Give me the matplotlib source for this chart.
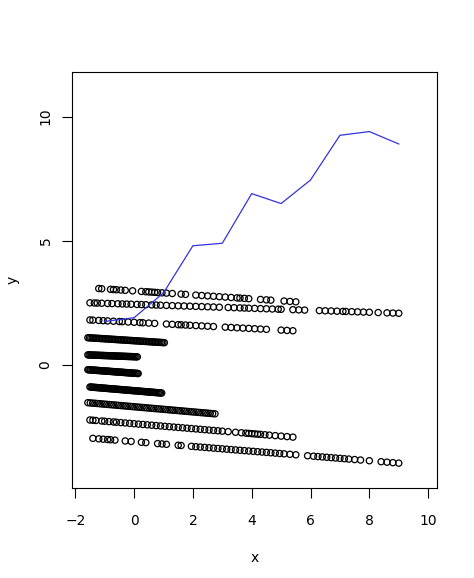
import numpy as np
import matplotlib.pyplot as plt

# blue line
line_x = [-1, 0, 1, 2, 3, 4, 5, 6, 7, 8, 9]
line_y = [1.75, 1.9, 2.9, 4.8, 4.9, 6.9, 6.5, 7.45, 9.25, 9.4, 8.9]

# scatter bands: x positions of points, plus band y at x=-1.5 and band slope
band_x = [
    [-1.2, -1.1, -0.8, -0.7, -0.6, -0.45, -0.3, -0.05, 0.25, 0.4, 0.5, 0.6, 0.7, 0.8, 0.95, 1.1, 1.3, 1.6, 1.75, 2.1, 2.3, 2.5, 2.7, 2.9, 3.1, 3.3, 3.5, 3.6, 3.75, 3.9, 4.3, 4.5, 4.65, 5.1, 5.3, 5.5],
    [-1.5, -1.35, -1.25, -1.1, -0.9, -0.75, -0.55, -0.4, -0.25, -0.1, 0.1, 0.25, 0.4, 0.6, 0.75, 0.9, 1.1, 1.3, 1.5, 1.7, 1.9, 2.1, 2.3, 2.5, 2.7, 2.9, 3.2, 3.4, 3.6, 3.75, 3.9, 4.1, 4.3, 4.5, 4.7, 4.9, 5.0, 5.4, 5.6, 5.8, 6.3, 6.5, 6.7, 6.9, 7.1, 7.2, 7.4, 7.6, 7.8, 8.0, 8.3, 8.6, 8.8, 9.0],
    [-1.5, -1.4, -1.2, -1.05, -0.9, -0.7, -0.5, -0.4, -0.2, 0.0, 0.2, 0.3, 0.5, 0.7, 1.1, 1.3, 1.5, 1.6, 1.75, 1.9, 2.1, 2.3, 2.5, 2.7, 3.1, 3.3, 3.5, 3.7, 3.9, 4.1, 4.3, 4.5, 5.0, 5.2, 5.4],
    list(np.round(np.arange(-1.57, 1.06, 0.05), 2)),
    list(np.round(np.arange(-1.57, 0.15, 0.04), 2)),
    list(np.round(np.arange(-1.57, 0.15, 0.035), 2)),
    list(np.round(np.arange(-1.5, 0.96, 0.04), 2)),
    list(np.round(np.arange(-1.57, 2.77, 0.08), 2)),
    [-1.5, -1.4, -1.3, -1.1, -1.0, -0.85, -0.7, -0.6, -0.45, -0.3, -0.15, 0.0, 0.15, 0.3, 0.45, 0.6, 0.75, 0.9, 1.05, 1.2, 1.35, 1.5, 1.65, 1.8, 1.95, 2.1, 2.25, 2.4, 2.55, 2.7, 2.85, 3.0, 3.2, 3.45, 3.65, 3.8, 3.9, 4.0, 4.1, 4.2, 4.3, 4.45, 4.6, 4.8, 5.0, 5.2, 5.4],
    [-1.4, -1.2, -1.05, -0.9, -0.8, -0.65, -0.3, -0.1, 0.25, 0.4, 0.8, 0.95, 1.1, 1.5, 1.6, 1.95, 2.1, 2.25, 2.4, 2.55, 2.7, 2.85, 3.0, 3.15, 3.3, 3.45, 3.6, 3.75, 3.9, 4.05, 4.2, 4.35, 4.5, 4.65, 4.8, 4.95, 5.1, 5.3, 5.5, 5.9, 6.1, 6.25, 6.4, 6.55, 6.7, 6.85, 7.0, 7.15, 7.3, 7.5, 7.7, 8.0, 8.4, 8.6, 8.8, 9.0],
]
band_y0 = [3.1, 2.5, 1.81, 1.09, 0.4, -0.2, -0.89, -1.53, -2.22, -2.95]
band_slope = [-0.08, -0.04, -0.063, -0.077, -0.047, -0.09, -0.1, -0.104, -0.1, -0.096]

fig = plt.figure(figsize=(4.74, 5.78), dpi=100)
ax = fig.add_axes([72 / 474, 90 / 578, 365 / 474, 416 / 578])

for xs, y0, s in zip(band_x, band_y0, band_slope):
    xs = np.array(xs, dtype=float)
    ys = y0 + s * (xs + 1.5)
    ax.scatter(xs, ys, s=20, facecolors="none", edgecolors="black", linewidths=0.9)

ax.plot(line_x, line_y, color="#3333dd", linewidth=0.9)

ax.set_xlim(-2.11, 10.3)
ax.set_ylim(-4.96, 11.8)
ax.set_xticks([-2, 0, 2, 4, 6, 8, 10])
ax.set_yticks([0, 5, 10])
ax.set_yticklabels(["0", "5", "10"], rotation=90, va="center")
ax.tick_params(labelsize=10, length=7)
ax.tick_params(axis="x", pad=12)
ax.tick_params(axis="y", pad=7)
ax.set_xlabel("x", fontsize=10, labelpad=16)
ax.set_ylabel("y", fontsize=10, labelpad=14)
fig.savefig("out.png", dpi=100)
